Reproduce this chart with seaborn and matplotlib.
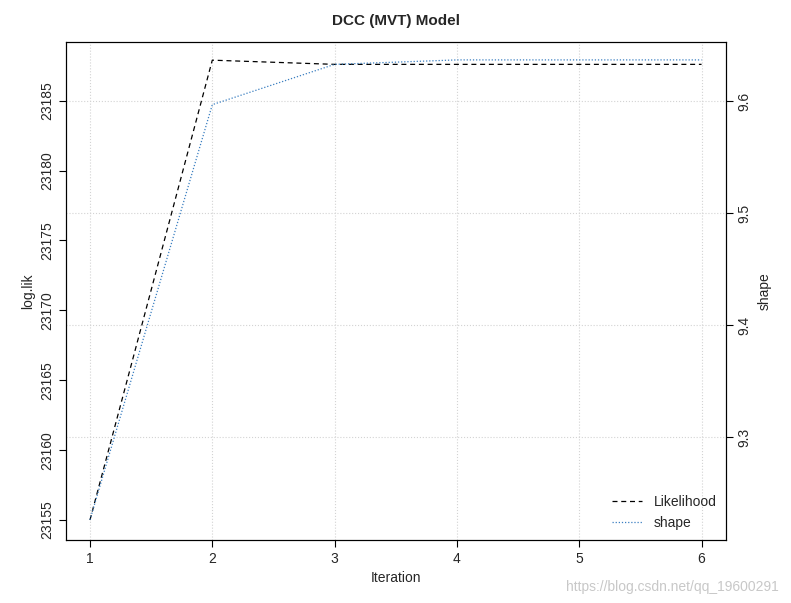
import matplotlib
matplotlib.use("Agg")
import matplotlib.pyplot as plt
import seaborn as sns

sns.set_theme(style="white")
plt.rcParams['font.family'] = ['Liberation Sans', 'DejaVu Sans']

iteration = [1, 2, 3, 4, 5, 6]
loglik = [23155.0, 23187.9, 23187.6, 23187.6, 23187.6, 23187.6]
shape = [9.226, 9.597, 9.633, 9.637, 9.637, 9.637]

fig = plt.figure(figsize=(7.91, 6.03), dpi=100)
ax = fig.add_axes([66 / 791, 1 - 540 / 603, 660 / 791, 498 / 603])
ax2 = ax.twinx()

sns.lineplot(x=iteration, y=loglik, ax=ax, color="black", lw=0.9,
             linestyle=(0, (4, 3)), label="Likelihood", legend=False)
sns.lineplot(x=iteration, y=shape, ax=ax2, color="#3a7fc1", lw=0.9,
             linestyle=(0, (1, 1.5)), label="shape", legend=False)

ax.set_xlim(0.804, 6.2)
ax.set_ylim(23153.57, 23189.2)
ax2.set_ylim(9.208, 9.653)
ax.set_xticks(iteration)
ax.set_yticks([23155, 23160, 23165, 23170, 23175, 23180, 23185])
ax2.set_yticks([9.3, 9.4, 9.5, 9.6])

for a in (ax, ax2):
    for s in a.spines.values():
        s.set_color("black")
        s.set_linewidth(0.8)
    a.tick_params(length=5, width=0.8, color="black", labelsize=10, direction="out")
ax.tick_params(axis="y", labelrotation=90, left=True)
ax2.tick_params(axis="y", labelrotation=90, right=True)
for t in ax.get_yticklabels() + ax2.get_yticklabels():
    t.set_va("center")
ax.tick_params(axis="x", bottom=True)

# grid: vertical at iterations, horizontal at right-axis ticks
for xv in iteration:
    ax.axvline(xv, color="lightgray", lw=0.8, linestyle=":", zorder=0)
for yv in [9.3, 9.4, 9.5, 9.6]:
    ax2.axhline(yv, color="lightgray", lw=0.8, linestyle=":", zorder=0)

ax.set_xlabel("Iteration", fontsize=10)
ax.set_ylabel("log.lik", fontsize=10)
ax2.set_ylabel("shape", fontsize=10)
ax.set_title("DCC (MVT) Model", fontsize=11, fontweight="bold", pad=12)

h1, l1 = ax.get_legend_handles_labels()
h2, l2 = ax2.get_legend_handles_labels()
ax2.legend(h1 + h2, l1 + l2, loc="lower right", frameon=False, fontsize=10,
           handlelength=2.2, borderaxespad=0.3)

fig.text(0.985, 0.02, "https://blog.csdn.net/qq_19600291", ha="right",
         color="#c8c8c8", fontsize=10)

fig.savefig("out.png", dpi=100)
